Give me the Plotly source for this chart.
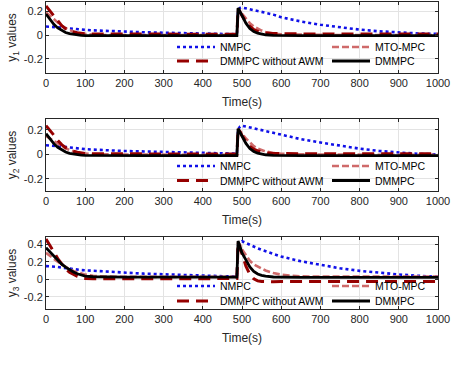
import plotly.graph_objects as go

# ---- data ----
T = [0, 10, 20, 30, 40, 50, 60, 70, 80, 90, 100, 120, 150, 200, 250, 300, 350, 400, 450, 487,
     490, 495, 500, 510, 520, 530, 540, 550, 560, 580, 600, 650, 700, 750, 800, 850, 900, 950, 1000]

# panel 1 (y1)
y1_nmpc = [0.072, 0.072, 0.070, 0.066, 0.062, 0.058, 0.055, 0.052, 0.049, 0.046, 0.044, 0.040, 0.035, 0.029, 0.024, 0.020, 0.016, 0.013, 0.009, 0.007,
           0.200, 0.228, 0.232, 0.226, 0.218, 0.210, 0.202, 0.195, 0.188, 0.172, 0.150, 0.115, 0.087, 0.064, 0.046, 0.032, 0.021, 0.014, 0.010]
y1_mto = [0.190, 0.165, 0.135, 0.105, 0.080, 0.058, 0.042, 0.030, 0.020, 0.013, 0.008, 0.003, 0.001, 0.0, 0.0, 0.0, 0.0, 0.0, 0.0, 0.0,
          0.220, 0.205, 0.180, 0.135, 0.100, 0.072, 0.052, 0.038, 0.027, 0.013, 0.006, 0.002, 0.001, 0.0, 0.0, 0.0, 0.0, 0.0, 0.0]
y1_noawm = [0.245, 0.205, 0.160, 0.115, 0.080, 0.055, 0.038, 0.027, 0.020, 0.015, 0.012, 0.010, 0.009, 0.008, 0.008, 0.008, 0.008, 0.008, 0.008, 0.008,
            0.220, 0.195, 0.160, 0.110, 0.072, 0.047, 0.032, 0.023, 0.018, 0.013, 0.011, 0.010, 0.010, 0.010, 0.010, 0.010, 0.010, 0.010, 0.010]
y1_dmmpc = [0.177, 0.130, 0.090, 0.060, 0.038, 0.022, 0.012, 0.005, 0.000, -0.003, -0.004, -0.005, -0.005, -0.005, -0.005, -0.005, -0.005, -0.005, -0.005, -0.005,
            0.228, 0.195, 0.160, 0.100, 0.055, 0.030, 0.016, 0.008, 0.003, -0.002, -0.004, -0.005, -0.005, -0.005, -0.005, -0.005, -0.005, -0.005, -0.005]

# panel 2 (y2)
y2_nmpc = [0.075, 0.074, 0.072, 0.068, 0.064, 0.060, 0.056, 0.052, 0.049, 0.046, 0.043, 0.039, 0.034, 0.028, 0.024, 0.020, 0.016, 0.012, 0.008, 0.006,
           0.205, 0.228, 0.235, 0.230, 0.222, 0.214, 0.206, 0.199, 0.192, 0.176, 0.158, 0.125, 0.097, 0.070, 0.047, 0.028, 0.013, 0.004, 0.000]
y2_mto = [0.150, 0.130, 0.110, 0.088, 0.068, 0.050, 0.036, 0.025, 0.016, 0.010, 0.006, 0.002, 0.000, -0.002, -0.003, -0.004, -0.004, -0.004, -0.004, -0.004,
          0.210, 0.195, 0.172, 0.130, 0.095, 0.068, 0.048, 0.034, 0.024, 0.012, 0.005, 0.000, -0.002, -0.003, -0.003, -0.003, -0.003, -0.003, -0.003]
y2_noawm = [0.236, 0.200, 0.158, 0.115, 0.080, 0.055, 0.038, 0.026, 0.018, 0.012, 0.008, 0.005, 0.004, 0.004, 0.004, 0.004, 0.004, 0.004, 0.004, 0.004,
            0.205, 0.185, 0.155, 0.105, 0.068, 0.043, 0.028, 0.019, 0.013, 0.008, 0.006, 0.005, 0.005, 0.005, 0.005, 0.005, 0.005, 0.005, 0.005]
y2_dmmpc = [0.170, 0.125, 0.088, 0.058, 0.036, 0.020, 0.009, 0.002, -0.003, -0.006, -0.008, -0.009, -0.010, -0.010, -0.010, -0.010, -0.010, -0.010, -0.010, -0.010,
            0.210, 0.180, 0.145, 0.090, 0.048, 0.024, 0.010, 0.002, -0.003, -0.008, -0.010, -0.010, -0.010, -0.010, -0.010, -0.010, -0.010, -0.010, -0.010]

# panel 3 (y3)
y3_nmpc = [0.150, 0.148, 0.145, 0.140, 0.132, 0.125, 0.118, 0.112, 0.108, 0.105, 0.102, 0.096, 0.088, 0.073, 0.064, 0.057, 0.050, 0.041, 0.034, 0.030,
           0.380, 0.420, 0.432, 0.410, 0.390, 0.370, 0.352, 0.335, 0.318, 0.286, 0.258, 0.205, 0.162, 0.125, 0.096, 0.073, 0.055, 0.040, 0.028]
y3_mto = [0.300, 0.270, 0.235, 0.200, 0.168, 0.140, 0.115, 0.095, 0.078, 0.064, 0.053, 0.040, 0.032, 0.028, 0.027, 0.027, 0.027, 0.027, 0.027, 0.027,
          0.420, 0.390, 0.340, 0.270, 0.210, 0.170, 0.145, 0.120, 0.100, 0.072, 0.052, 0.033, 0.030, 0.030, 0.030, 0.030, 0.030, 0.030, 0.030]
y3_noawm = [0.457, 0.390, 0.310, 0.235, 0.170, 0.118, 0.080, 0.052, 0.032, 0.018, 0.010, 0.006, 0.006, 0.008, 0.008, 0.008, 0.008, 0.008, 0.008, 0.008,
            0.420, 0.360, 0.290, 0.150, 0.055, 0.005, -0.018, -0.026, -0.028, -0.027, -0.026, -0.025, -0.025, -0.025, -0.025, -0.025, -0.025, -0.025, -0.025]
y3_dmmpc = [0.358, 0.310, 0.260, 0.212, 0.172, 0.138, 0.108, 0.083, 0.063, 0.048, 0.037, 0.029, 0.026, 0.025, 0.025, 0.025, 0.025, 0.025, 0.025, 0.025,
            0.435, 0.360, 0.300, 0.220, 0.140, 0.090, 0.060, 0.045, 0.035, 0.026, 0.023, 0.022, 0.022, 0.022, 0.022, 0.022, 0.022, 0.022, 0.022]

series_names = ["NMPC", "MTO-MPC", "DMMPC without AWM", "DMMPC"]
panels = [
    [y1_nmpc, y1_mto, y1_noawm, y1_dmmpc],
    [y2_nmpc, y2_mto, y2_noawm, y2_dmmpc],
    [y3_nmpc, y3_mto, y3_noawm, y3_dmmpc],
]
y_titles = ["y<sub>1</sub> values", "y<sub>2</sub> values", "y<sub>3</sub> values"]
y_ranges = [[-0.318, 0.278], [-0.30, 0.29], [-0.337, 0.48]]
y_ticks = [[-0.2, 0, 0.2], [-0.2, 0, 0.2], [-0.2, 0, 0.2, 0.4]]
x_ticks = list(range(0, 1001, 100))

# ---- styles ----
styles = [
    dict(color="#1010e8", width=2.6, dash="dot"),
    dict(color="#cf6a6a", width=2.6, dash="7px,3px"),
    dict(color="#960000", width=3.0, dash="12px,7px"),
    dict(color="#000000", width=2.8, dash="solid"),
]

H = 369.0
boxes = [(2, 73), (119, 191), (237, 309)]
legend_offsets = [(45, 59), (47, 61.5), (49, 64)]
FONT = "Arial, Liberation Sans, sans-serif"

fig = go.Figure()
layout = dict(
    width=474, height=369,
    margin=dict(l=46, r=36, t=0, b=0, autoexpand=False),
    paper_bgcolor="white", plot_bgcolor="white",
    font=dict(family=FONT, size=11, color="#262626"),
)

for p, ys in enumerate(panels):
    ax = "" if p == 0 else str(p + 1)
    lg_a = "legend" if p == 0 else "legend%d" % (2 * p + 1)
    lg_b = "legend%d" % (2 * p + 2)
    for s, (name, yv) in enumerate(zip(series_names, ys)):
        fig.add_trace(go.Scatter(
            x=T, y=yv, mode="lines", name=name,
            line=styles[s],
            xaxis="x" + ax, yaxis="y" + ax,
            legend=lg_a if s in (0, 1) else lg_b,
            showlegend=True,
        ))
    top, bot = boxes[p]
    layout["xaxis" + ax] = dict(
        domain=[0, 1], anchor="y" + ax, range=[0, 1000], automargin=False,
        tickvals=x_ticks, ticks="inside", ticklen=3, tickcolor="#262626",
        showline=True, linecolor="#262626", linewidth=1, mirror="allticks",
        showgrid=True, gridcolor="#e3e3e3", gridwidth=1, zeroline=False,
        tickfont=dict(size=11, color="#262626"),
        title=dict(text="Time(s)", font=dict(size=12, color="#262626"), standoff=9),
    )
    layout["yaxis" + ax] = dict(
        domain=[1 - bot / H, 1 - top / H], anchor="x" + ax, range=y_ranges[p], automargin=False,
        tickvals=y_ticks[p], ticktext=[("%g" % v) for v in y_ticks[p]],
        ticks="inside", ticklen=3, tickcolor="#262626",
        showline=True, linecolor="#262626", linewidth=1, mirror="allticks",
        showgrid=True, gridcolor="#e3e3e3", gridwidth=1, zeroline=False,
        tickfont=dict(size=11, color="#262626"),
        title=dict(text=y_titles[p], font=dict(size=12, color="#262626"), standoff=4),
    )
    for lg, off in zip((lg_a, lg_b), legend_offsets[p]):
        layout[lg] = dict(
            orientation="h", x=(172 - 46) / 392.0, xanchor="left",
            y=1 - (top + off) / H, yanchor="middle",
            bgcolor="rgba(0,0,0,0)", borderwidth=0,
            font=dict(size=10.5, color="#000000"),
            itemwidth=38, entrywidth=102, tracegroupgap=0,
        )

fig.update_layout(**layout)
fig.write_html("out.html", config={"displayModeBar": False},
               post_script="document.body.style.margin='0px';")
